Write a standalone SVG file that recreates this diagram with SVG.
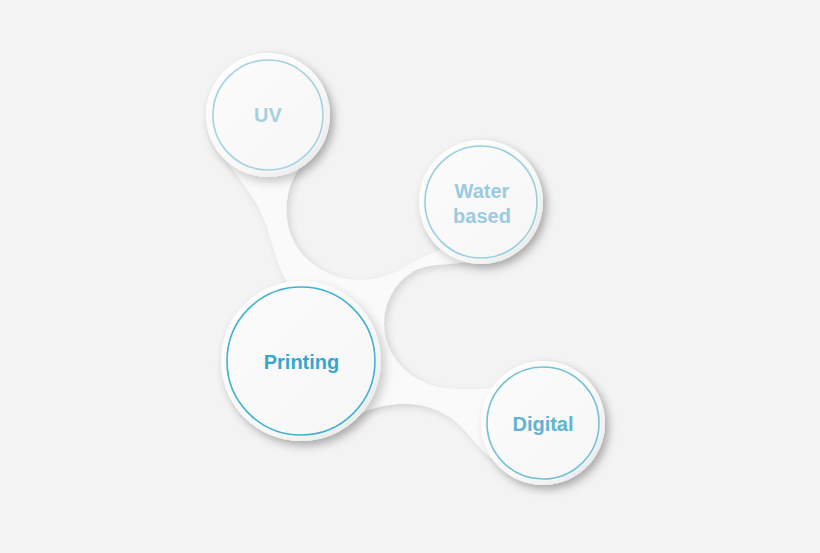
<svg xmlns="http://www.w3.org/2000/svg" width="820" height="553" viewBox="0 0 820 553">
<style>
.blob{fill:#fafafa;filter:url(#bs);}
.disc{fill:url(#dg);filter:url(#ds);}
.face{fill:url(#fg);}
.ring{fill:none;stroke-width:1.6;}
.lbl{font-family:"Liberation Sans",Arial,sans-serif;font-weight:bold;font-size:20px;text-anchor:middle;}
</style>
<defs>
<linearGradient id="dg" x1="0" y1="0" x2="1" y2="1">
<stop offset="0" stop-color="#ffffff"/>
<stop offset="0.6" stop-color="#f8f8f8"/>
<stop offset="1" stop-color="#e6e6e6"/>
</linearGradient>
<linearGradient id="fg" x1="0" y1="0" x2="1" y2="1">
<stop offset="0" stop-color="#fcfcfc"/>
<stop offset="1" stop-color="#f6f6f6"/>
</linearGradient>
<filter id="ds" x="-30%" y="-30%" width="160%" height="160%">
<feDropShadow dx="4" dy="5" stdDeviation="5" flood-color="#000" flood-opacity="0.2"/>
</filter>
<filter id="bs" x="-20%" y="-20%" width="140%" height="140%">
<feDropShadow dx="3" dy="3" stdDeviation="3.5" flood-color="#000" flood-opacity="0.13"/>
</filter>
</defs>
<rect width="820" height="553" fill="#f3f3f3"/>
<g id="connectors">
<path class="blob" d="M 299,168.7 C 289,183 285,200 287,218 C 289,242 305,265 335,276 C 355,283 383,281 403,268 C 418,259 432,253 441.1,249.5 A 62 62 0 1 1 465,261.9 C 450,265 432,263 418,269 C 398,278 385,298 384,322 C 383,355 410,384 445,388 C 465,390 480,390 492.2,387.4 A 62 62 0 1 1 492.2,458.6 C 478,450 467,428 448,416 C 428,403 398,398 362.3,412.4 A 80 80 0 1 1 287.1,282.2 C 276,264 272,240 265,222 C 257,200 243,185 228,162.5 A 62 62 0 1 1 299,168.7 Z"/>
</g>
<g id="node-uv">
<circle class="disc" cx="268" cy="115" r="62"/>
<circle class="face" cx="268" cy="115" r="57"/>
<circle class="ring" cx="268" cy="115" r="55" stroke="#a3d2e2"/>
<text class="lbl" x="268" y="122" fill="#a6cfe0">UV</text>
</g>
<g id="node-water">
<circle class="disc" cx="481" cy="202" r="62"/>
<circle class="face" cx="481" cy="202" r="58"/>
<circle class="ring" cx="481" cy="202" r="56" stroke="#98cfe0"/>
<text class="lbl" x="482" y="198" fill="#9ccadf">Water</text>
<text class="lbl" x="482" y="223" fill="#9ccadf">based</text>
</g>
<g id="node-printing">
<circle class="disc" cx="301" cy="361" r="80"/>
<circle class="face" cx="301" cy="361" r="76"/>
<circle class="ring" cx="301" cy="361" r="74" stroke="#3fb2d2" stroke-width="2"/>
<text class="lbl" x="301.5" y="369" fill="#36a7cc">Printing</text>
</g>
<g id="node-digital">
<circle class="disc" cx="543" cy="423" r="62"/>
<circle class="face" cx="543" cy="423" r="58"/>
<circle class="ring" cx="543" cy="423" r="56" stroke="#74c0d6"/>
<text class="lbl" x="543" y="431" fill="#62b3d1">Digital</text>
</g>
</svg>
